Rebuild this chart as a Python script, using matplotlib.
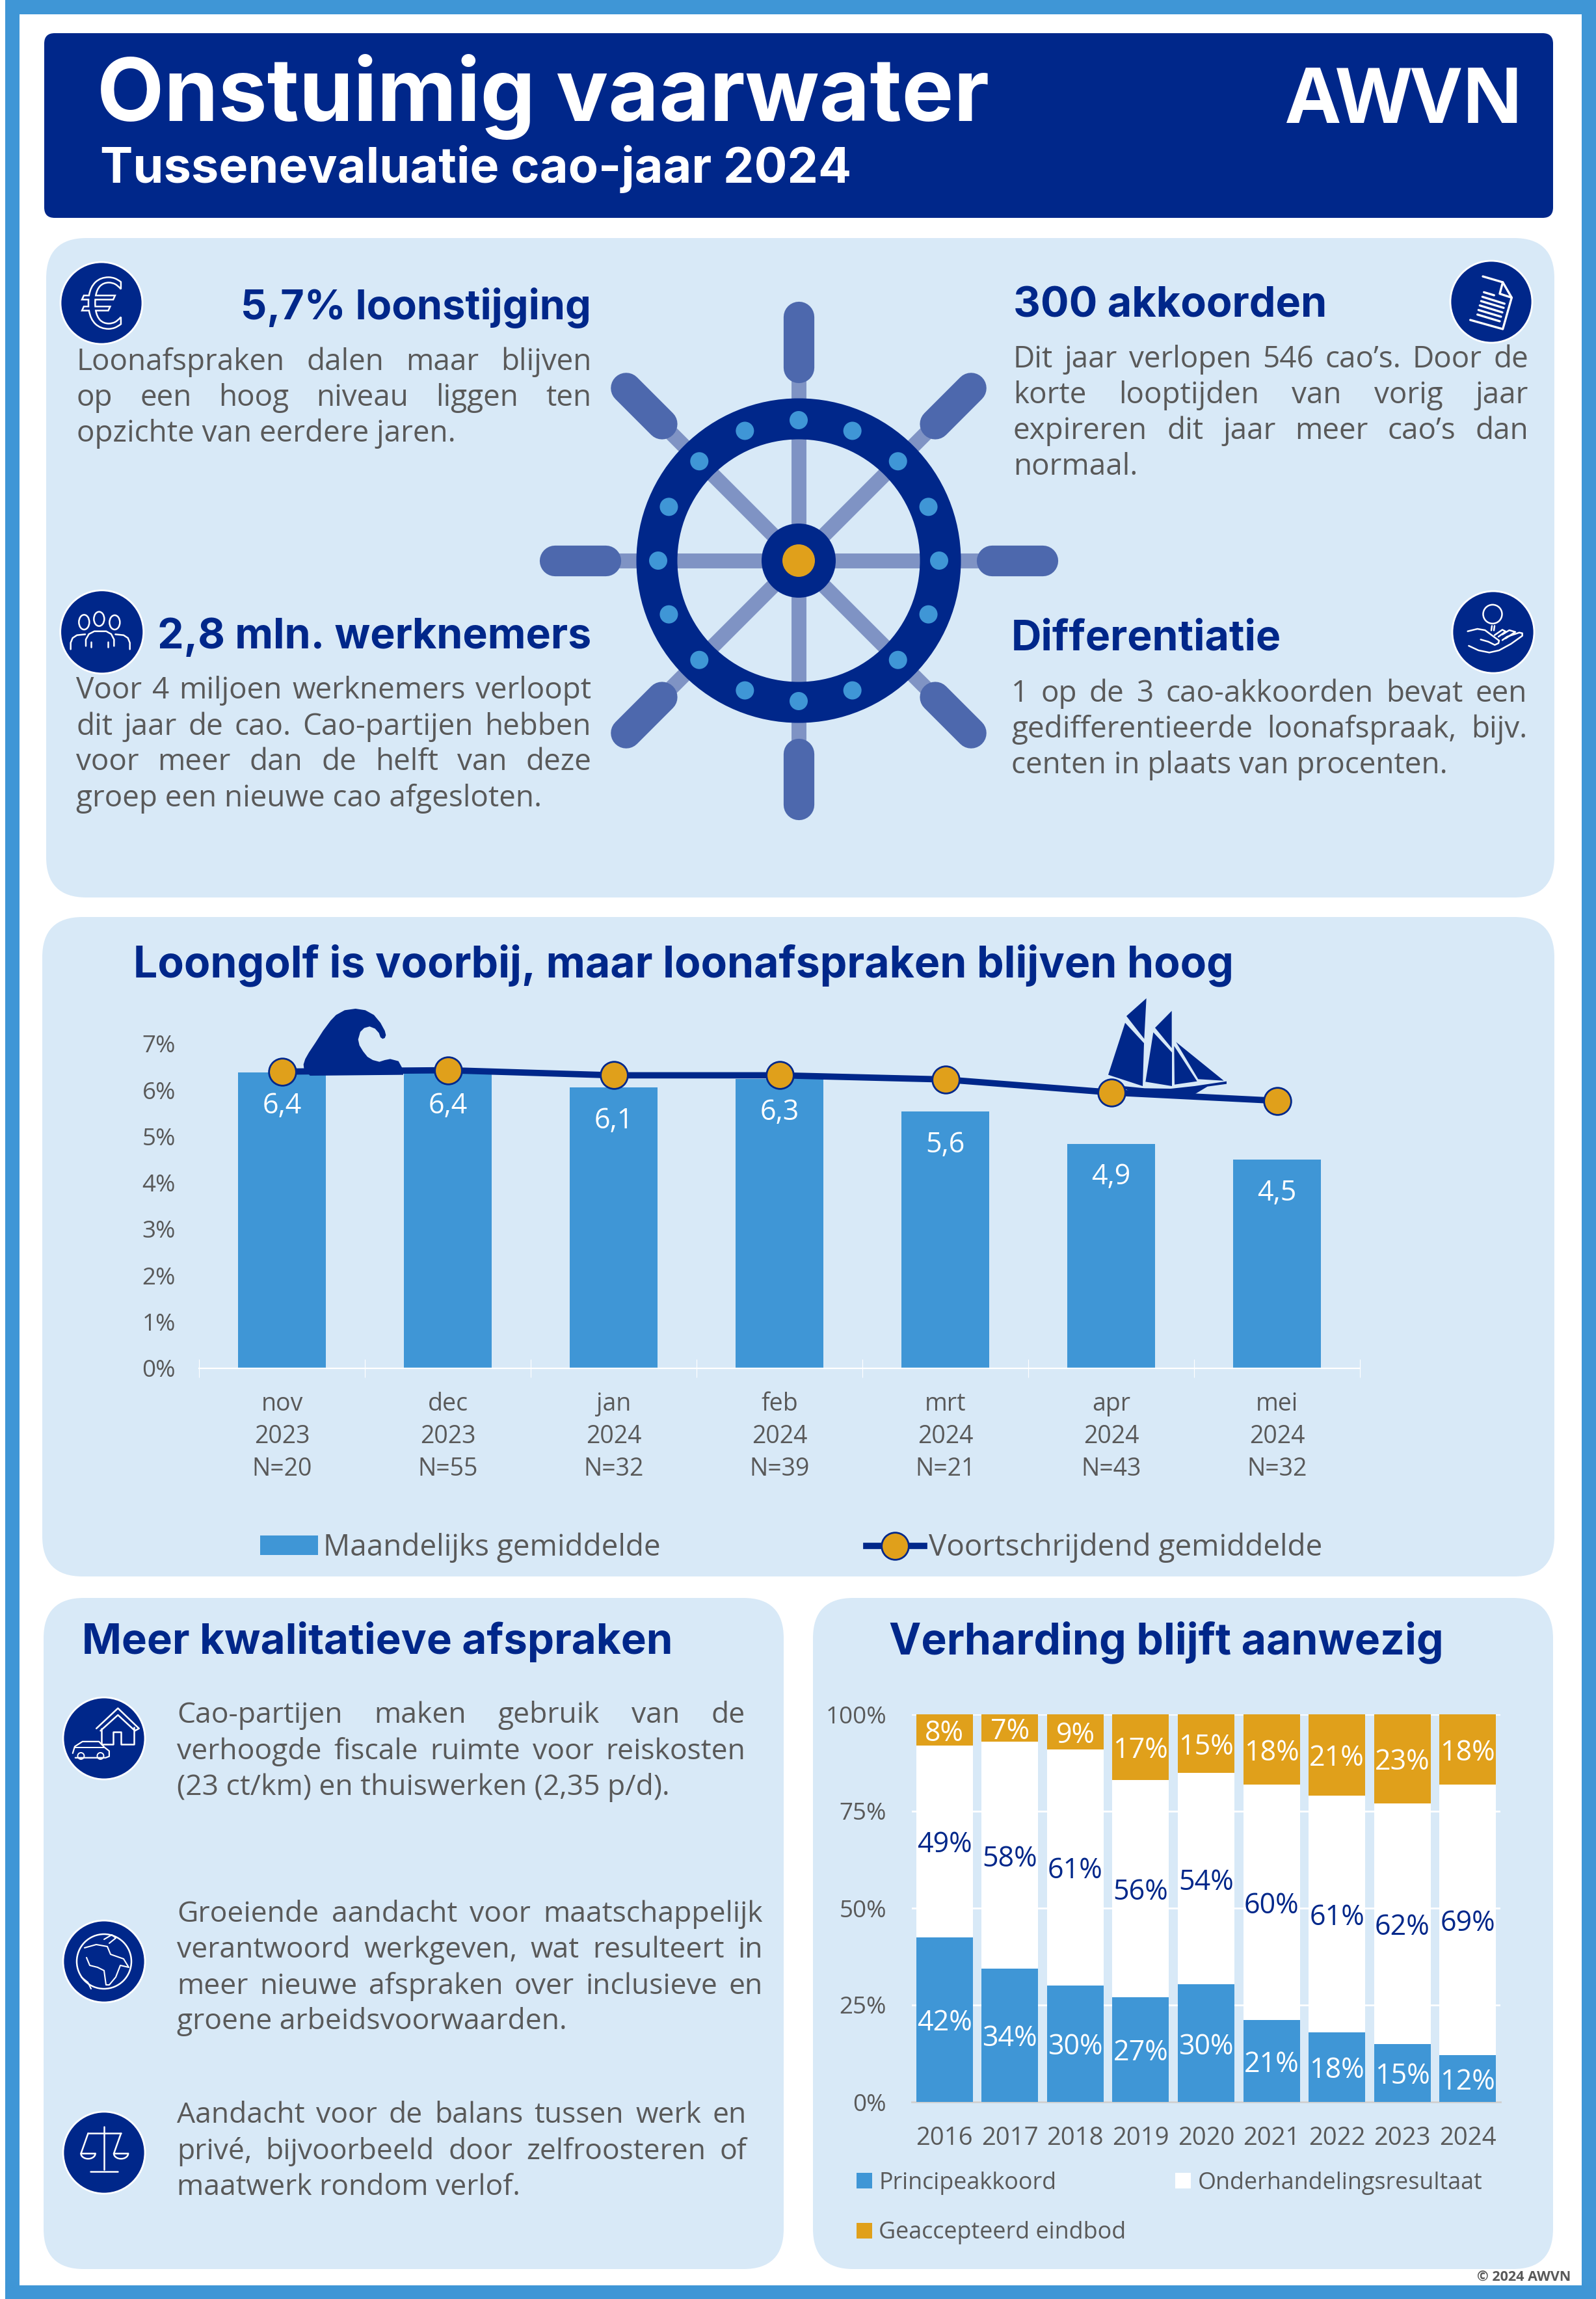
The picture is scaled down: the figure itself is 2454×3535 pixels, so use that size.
import numpy as np
import matplotlib
matplotlib.use('Agg')
import matplotlib.pyplot as plt
from matplotlib.patches import FancyBboxPatch, Circle, Rectangle, Polygon, PathPatch, Patch, Ellipse
from matplotlib.textpath import TextPath
from matplotlib.font_manager import FontProperties
from matplotlib.transforms import Affine2D

# ---------- data ----------
months = ['nov', 'dec', 'jan', 'feb', 'mrt', 'apr', 'mei']
month_years = ['2023', '2023', '2024', '2024', '2024', '2024', '2024']
month_n = ['N=20', 'N=55', 'N=32', 'N=39', 'N=21', 'N=43', 'N=32']
monthly_avg = [6.38, 6.38, 6.06, 6.24, 5.54, 4.84, 4.50]
monthly_labels = ['6,4', '6,4', '6,1', '6,3', '5,6', '4,9', '4,5']
rolling_avg = [6.40, 6.43, 6.32, 6.32, 6.23, 5.95, 5.77]

years = ['2016', '2017', '2018', '2019', '2020', '2021', '2022', '2023', '2024']
principe = [42, 34, 30, 27, 30, 21, 18, 15, 12]
onderhandel = [49, 58, 61, 56, 54, 60, 61, 62, 69]
eindbod = [8, 7, 9, 17, 15, 18, 21, 23, 18]

# ---------- style ----------
NAVY = '#00278A'
BLUE = '#3F96D6'
GOLD = '#E0A01B'
PANEL = '#D8E9F7'
GREY = '#595959'
HEAD = 'Inter'
BODY = 'Open Sans'
W, H = 2454, 3535
fig = plt.figure(figsize=(W / 100, H / 100), dpi=100, facecolor='white')
bg = fig.add_axes([0, 0, 1, 1])
bg.set_xlim(0, W)
bg.set_ylim(H, 0)
bg.axis('off')
rend = fig.canvas.get_renderer()


def panel(x0, y0, x1, y1, r, c=PANEL):
    bg.add_patch(FancyBboxPatch((x0, y0), x1 - x0, y1 - y0,
                                boxstyle=f'round,pad=0,rounding_size={r}',
                                fc=c, ec='none', zorder=1))


def fit(s, x, y, width=None, size=40, ha='left', color=NAVY, family=HEAD, weight='bold'):
    t = bg.text(x, y, s, ha=ha, va='baseline', fontsize=size, color=color,
                family=family, weight=weight, zorder=5)
    if width:
        w = t.get_window_extent(rend).width
        t.set_fontsize(size * width / w)
    return t


def justified(s, x0, x1, y, size=33.0, color=GREY, just=True):
    words = s.split(' ')
    if not just or len(words) == 1:
        bg.text(x0, y, s, fontsize=size, color=color, family=BODY, va='baseline', zorder=5)
        return
    ts = [bg.text(x0, y, w, fontsize=size, color=color, family=BODY, va='baseline', zorder=5)
          for w in words]
    ws = [t.get_window_extent(rend).width for t in ts]
    gap = (x1 - x0 - sum(ws)) / (len(ws) - 1)
    x = x0
    for t, w in zip(ts, ws):
        t.set_x(x)
        x += w + gap


def block(lines, x0, x1, ys, size=33.0, njust=None):
    njust = len(lines) - 1 if njust is None else njust
    for i, (l, y) in enumerate(zip(lines, ys)):
        justified(l, x0, x1, y, size=size, just=i < njust)


def icon_circle(cx, cy, r=63):
    bg.add_patch(Circle((cx, cy), r, fc=NAVY, ec='white', lw=2, zorder=4))


def pl(pts, lw=1.8, closed=False, fc='none'):
    bg.add_patch(Polygon(pts, closed=closed, fc=fc, ec='white', lw=lw, zorder=6,
                         joinstyle='round', capstyle='round'))


def circ(x, y, r, lw=1.8):
    bg.add_patch(Circle((x, y), r, fc='none', ec='white', lw=lw, zorder=6))


def arc(cx, cy, rx, ry, a0, a1, lw=1.8):
    t = np.radians(np.linspace(a0, a1, 30))
    pl(np.c_[cx + rx * np.cos(t), cy + ry * np.sin(t)], lw=lw)


# ---------- frame ----------
bg.add_patch(Rectangle((8, 0), W - 8, H, fc=BLUE, ec='none', zorder=0))
bg.add_patch(Rectangle((30, 22), 2402, 3514 - 22, fc='white', ec='none', zorder=0.5))
panel(68, 51, 2388, 335, 16, NAVY)
panel(71, 366, 2390, 1380, 62)
panel(65, 1410, 2390, 2424, 62)
panel(67, 2457, 1205, 3489, 62)
panel(1250, 2457, 2388, 3489, 62)

# ---------- header ----------
fit('Onstuimig vaarwater', 149, 186, width=1373, size=90, color='white')
fit('Tussenevaluatie cao-jaar 2024', 154, 281, width=1155, size=50, color='white')
fit('AWVN', 1978, 189, width=365, size=90, color='white', family='Open Sans', weight='bold')

# ---------- top panel text ----------
fit('5,7% loonstijging', 909, 491, width=539, ha='right')
fit('300 akkoorden', 1558, 487, width=483)
fit('2,8 mln. werknemers', 909, 997, width=668, ha='right')
fit('Differentiatie', 1555, 1000, width=416)
block(['Loonafspraken dalen maar blijven', 'op een hoog niveau liggen ten',
       'opzichte van eerdere jaren.'], 118, 909, [569, 624, 679])
block(['Dit jaar verlopen 546 cao’s. Door de', 'korte looptijden van vorig jaar',
       'expireren dit jaar meer cao’s dan', 'normaal.'], 1558, 2350, [565, 620, 675, 730])
block(['Voor 4 miljoen werknemers verloopt', 'dit jaar de cao. Cao-partijen hebben',
       'voor meer dan de helft van deze', 'groep een nieuwe cao afgesloten.'], 117, 909,
      [1074, 1130, 1184, 1240])
block(['1 op de 3 cao-akkoorden bevat een', 'gedifferentieerde loonafspraak, bijv.',
       'centen in plaats van procenten.'], 1555, 2348, [1079, 1134, 1189])

# ---------- ship's wheel ----------
cx, cy = 1228, 862
for a in range(0, 360, 45):
    ca, sa = np.cos(np.radians(a)), np.sin(np.radians(a))
    bg.plot([cx, cx + 280 * ca], [cy, cy + 280 * sa], color='#7F93C4', lw=16.5, zorder=2,
            solid_capstyle='butt')
    bg.plot([cx + 297 * ca, cx + 375 * ca], [cy + 297 * sa, cy + 375 * sa], color='#4D68AD',
            lw=34, zorder=3, solid_capstyle='round')
bg.add_patch(Circle((cx, cy), 218, fc='none', ec=NAVY, lw=(250 - 187) * 0.72, zorder=3))
bg.add_patch(Circle((cx, cy), 57, fc=NAVY, ec='none', zorder=3))
bg.add_patch(Circle((cx, cy), 25, fc=GOLD, ec='none', zorder=4))
for a in np.arange(0, 360, 22.5):
    bg.add_patch(Circle((cx + 216 * np.cos(np.radians(a)), cy + 216 * np.sin(np.radians(a))), 14,
                        fc=BLUE, ec='none', zorder=4))

# ---------- icons ----------
# euro
icon_circle(156, 466)
tp = TextPath((0, 0), '€', size=105, prop=FontProperties(family='DejaVu Sans'))
bb = tp.get_extents()
tf = Affine2D().translate(-(bb.x0 + bb.x1) / 2, -(bb.y0 + bb.y1) / 2).scale(1, -1).translate(156, 466)
bg.add_patch(PathPatch(tf.transform_path(tp), fc=NAVY, ec='white', lw=1.8, zorder=6))
# document
icon_circle(2293, 464)
ox, oy = 2220, 390
Z = lambda pts: [(ox + a / 3, oy + b / 3) for a, b in pts]
pl(Z([(180, 105), (272, 132), (313, 203), (272, 348), (122, 306), (180, 105)]), lw=2.4)
pl(Z([(272, 132), (258, 185), (313, 203)]), lw=2.4)
for a, b, c, d in [(185, 178, 232, 192), (178, 199, 280, 231), (172, 219, 276, 250),
                   (166, 239, 270, 271), (160, 260, 264, 291), (155, 281, 258, 312)]:
    pl(Z([(a, b), (c, d)]), lw=2.4)
# people
icon_circle(156.7, 971.7, 64)
ox, oy = 85, 900
for ex, ey, ew, eh in [(133, 170, 48, 68), (202, 155, 48, 66), (274, 171, 48, 66)]:
    bg.add_patch(Ellipse((ox + ex / 3, oy + ey / 3), ew / 3, eh / 3, fc='none', ec='white', lw=1.8, zorder=6))
pl(Z([(71, 295), (71, 265), (80, 243), (100, 230), (138, 226)]))
pl(Z([(344, 295), (344, 265), (335, 243), (315, 230), (277, 226)]))
pl(Z([(141, 280), (141, 250), (155, 225), (180, 212), (235, 212), (258, 225), (271, 250), (271, 280)]))
pl(Z([(166, 262), (166, 286)]))
pl(Z([(244, 262), (244, 286)]))
# hand
icon_circle(2296, 972)
ox, oy = 2230, 905
circ(ox + 195 / 3, oy + 118 / 3, 14.5)
pl(Z([(192, 172), (189, 193)]))
pl(Z([(204, 172), (201, 193)]))
pl(Z([(80, 197), (125, 186), (160, 192), (195, 218), (225, 240), (222, 252), (205, 260), (175, 245),
      (140, 235)]))
pl(Z([(85, 264), (130, 285), (180, 295), (225, 285), (280, 255), (332, 218), (332, 206), (318, 203),
      (262, 222), (240, 238)]))
pl(Z([(204, 215), (240, 190), (255, 198), (222, 222)]))
pl(Z([(240, 212), (272, 192), (300, 200), (255, 230)]))
# house + car
icon_circle(160, 2673)
ox, oy = 160 - 202 * .79, 2673 - 322 * .692
Y = lambda pts: [(ox + a * .79, oy + b * .692) for a, b in pts]
pl(Y([(187, 300), (229, 255), (270, 300), (262, 305), (229, 270), (195, 305), (187, 300)]))
pl(Y([(197, 300), (197, 335), (220, 335), (220, 308), (235, 308), (235, 335), (260, 335), (260, 297)]))
pl(Y([(141, 355), (145, 340), (160, 329), (192, 329), (203, 342), (212, 350), (212, 362), (205, 365),
      (146, 365), (141, 355)]), lw=1.6)
pl(Y([(145, 342), (203, 342)]), lw=1.4)
circ(ox + 157 * .79, oy + 361 * .692, 5, lw=1.4)
circ(ox + 195 * .79, oy + 361 * .692, 5, lw=1.4)
# globe
icon_circle(160, 3016)
circ(160, 3016, 42, lw=1.8)
pl([(130, 2995), (148, 2990), (165, 2993), (170, 3005), (190, 3012), (198, 3025), (185, 3022),
    (178, 3040), (168, 3052), (163, 3052), (160, 3030), (150, 3025), (138, 3022), (133, 3010), (130, 2995)],
   lw=1.5)
pl([(160, 2982), (172, 2975), (178, 2980), (168, 2988), (160, 2982)], lw=1.5)
pl([(125, 3040), (135, 3048), (140, 3058)], lw=1.5)
# scales
icon_circle(160, 3310)
ox, oy = 160 - 202 * .79, 3310 - 1243 * .692
pl(Y([(202, 1185), (202, 1280)]))
pl(Y([(170, 1200), (235, 1200)]))
pl(Y([(176, 1285), (229, 1285)]))
for c in (171, 235):
    pl(Y([(c, 1200), (c - 14, 1245), (c + 14, 1245), (c, 1200)]))
    arc(ox + c * .79, oy + 1245 * .692, 11, 8, 0, 180)


# ---------- chart 1 ----------
def px_axes(x0, ytop, x1, ybot):
    return fig.add_axes([x0 / W, 1 - ybot / H, (x1 - x0) / W, (ybot - ytop) / H], facecolor='none')


fit('Loongolf is voorbij, maar loonafspraken blijven hoog', 205, 1502, width=1694)
ax = px_axes(306, 1605, 2091, 2103.5)
xs = np.arange(len(months))
bars = ax.bar(xs, monthly_avg, width=0.526, color=BLUE, zorder=2, label='Maandelijks gemiddelde')
ax.bar_label(bars, labels=monthly_labels, padding=-53, color='white', fontsize=31, family=BODY)
line, = ax.plot(xs, rolling_avg, color=NAVY, lw=7, marker='o', ms=30, mfc=GOLD, mec=NAVY, mew=2,
                zorder=5, clip_on=False, label='Voortschrijdend gemiddelde')
ax.set_xlim(-0.5, 6.5)
ax.set_ylim(0, 7)
for s in ('top', 'left', 'right'):
    ax.spines[s].set_visible(False)
ax.spines['bottom'].set_color('white')
ax.spines['bottom'].set_linewidth(1.6)
ax.set_xticks(xs)
ax.set_xticklabels([f'{m}\n{y}\n{n}' for m, y, n in zip(months, month_years, month_n)],
                   linespacing=1.42, fontsize=27, color=GREY, family=BODY)
ax.set_xticks(np.arange(-0.5, 7), minor=True)
ax.tick_params(axis='x', which='major', length=0, pad=26)
ax.tick_params(axis='x', which='minor', length=19.5, width=0.8, color='white', direction='inout')
ax.set_yticks(range(8))
ax.set_yticklabels([f'{i}%' for i in range(8)], fontsize=26.5, color=GREY, family=BODY)
ax.tick_params(axis='y', length=0, pad=26)
ax.legend(handles=[Patch(fc=BLUE, ec='none', label='Maandelijks gemiddelde'), line], ncol=2,
          loc='center left', bbox_to_anchor=(400, 2380), bbox_transform=bg.transData,
          frameon=False, handlelength=1.95, handleheight=0.65, handletextpad=0.16,
          columnspacing=6.9, borderpad=0, borderaxespad=0, labelcolor=GREY,
          prop={'family': BODY, 'size': 33})

# wave and ship share the chart layer (between bars and line)
W0 = (430, 1520)
wave = [(110, 350), (118, 325), (135, 295), (165, 250), (200, 195), (215, 175), (235, 148), (260, 122),
        (300, 100), (350, 93), (395, 100), (435, 122), (465, 158), (485, 195), (490, 215), (485, 228),
        (475, 232), (465, 225), (458, 205), (440, 185), (415, 175), (390, 182), (372, 200), (362, 235),
        (368, 262), (385, 290), (405, 315), (430, 330), (460, 338), (485, 330), (510, 325), (548, 335),
        (570, 375), (570, 398), (140, 402), (125, 385), (112, 368)]
ax.add_patch(Polygon([(W0[0] + a / 3, W0[1] + b / 3) for a, b in wave], closed=True, fc=NAVY, ec='none',
                     transform=bg.transData, zorder=4, clip_on=False))
S0 = (1660, 1520)
ship = [[(308, 45), (216, 127), (298, 232)],
        [(210, 158), (297, 252), (291, 450), (132, 398)],
        [(425, 103), (348, 181), (425, 275)],
        [(340, 202), (426, 295), (426, 450), (304, 430)],
        [(436, 265), (542, 428), (438, 443)],
        [(445, 247), (665, 425), (547, 418)],
        [(200, 450), (300, 460), (420, 462), (530, 450), (678, 428), (678, 440), (590, 452), (530, 488),
         (205, 492), (225, 470), (205, 462)]]
for sail in ship:
    ax.add_patch(Polygon([(S0[0] + a / 3, S0[1] + b / 3) for a, b in sail], closed=True, fc=NAVY, ec='none',
                         transform=bg.transData, zorder=4, clip_on=False))

# ---------- chart 2 ----------
fit('Verharding blijft aanwezig', 1367, 2543, width=854)
ax2 = px_axes(1402, 2636, 2307, 3232)
xs2 = np.arange(len(years))
p, o, e = np.array(principe, float), np.array(onderhandel, float), np.array(eindbod, float)
tot = p + o + e
b1 = ax2.bar(xs2, p / tot * 100, width=0.865, color=BLUE, zorder=3, label='Principeakkoord')
b2 = ax2.bar(xs2, o / tot * 100, width=0.865, bottom=p / tot * 100, color='white', zorder=3,
             label='Onderhandelingsresultaat')
b3 = ax2.bar(xs2, e / tot * 100, width=0.865, bottom=(p + o) / tot * 100, color=GOLD, zorder=3,
             label='Geaccepteerd eindbod')
ax2.bar_label(b1, labels=[f'{v}%' for v in principe], label_type='center', color='white', fontsize=31,
              family=BODY, zorder=6, padding=-4)
ax2.bar_label(b2, labels=[f'{v}%' for v in onderhandel], label_type='center', color=NAVY, fontsize=31,
              family=BODY, zorder=6, padding=-4)
ax2.bar_label(b3, labels=[f'{v}%' for v in eindbod], label_type='center', color='white', fontsize=31,
              family=BODY, zorder=6, padding=-4)
ax2.set_xlim(-0.5, 8.5)
ax2.set_ylim(0, 100)
for s in ('top', 'left', 'right'):
    ax2.spines[s].set_visible(False)
ax2.spines['bottom'].set_color('#D0D0D0')
ax2.spines['bottom'].set_linewidth(2)
ax2.set_xticks(xs2)
ax2.set_xticklabels(years, fontsize=27.5, color=GREY, family=BODY)
ax2.set_yticks([0, 25, 50, 75, 100])
ax2.set_yticklabels(['0%', '25%', '50%', '75%', '100%'], fontsize=26.5, color=GREY, family=BODY)
ax2.tick_params(axis='x', length=0, pad=27)
ax2.tick_params(axis='y', length=0, pad=28)
ax2.yaxis.grid(True, color='white', lw=2, zorder=1)
ax2.set_axisbelow(True)
ax2.legend(handles=[b1, b3, b2], ncol=2, loc='upper left', bbox_to_anchor=(1317, 3339),
           bbox_transform=bg.transData, frameon=False, handlelength=0.68, handleheight=0.65,
           handletextpad=0.28, labelspacing=1.12, columnspacing=2.1, borderpad=0, borderaxespad=0,
           labelcolor=GREY, prop={'family': BODY, 'size': 25.8})

# ---------- left bottom panel ----------
fit('Meer kwalitatieve afspraken', 126, 2543, width=909)
block(['Cao-partijen maken gebruik van de', 'verhoogde fiscale ruimte voor reiskosten',
       '(23 ct/km) en thuiswerken (2,35 p/d).'], 272, 1146, [2649, 2705, 2760], size=32)
block(['Groeiende aandacht voor maatschappelijk', 'verantwoord werkgeven, wat resulteert in',
       'meer nieuwe afspraken over inclusieve en', 'groene arbeidsvoorwaarden.'], 272, 1173,
      [2955, 3010, 3066, 3120], size=32)
block(['Aandacht voor de balans tussen werk en', 'privé, bijvoorbeeld door zelfroosteren of',
       'maatwerk rondom verlof.'], 272, 1148, [3264, 3320, 3375], size=32)

bg.text(2415, 3502, '© 2024 AWVN', ha='right', va='center', fontsize=15.5, color=GREY, family=BODY,
        weight='bold', zorder=5)

fig.savefig('out.png', dpi=100, facecolor='white')
